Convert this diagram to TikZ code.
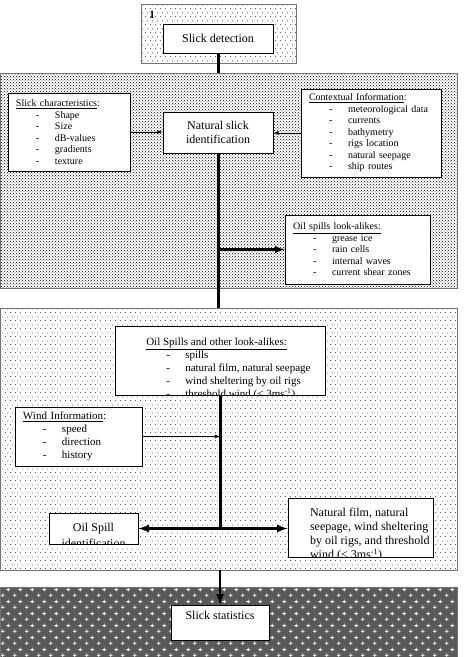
\documentclass[tikz,border=0pt]{standalone}
\usepackage{fontspec}
\setmainfont{Liberation Serif}
\usepackage{tikz}
\usetikzlibrary{arrows}
\usetikzlibrary{patterns}
\usetikzlibrary{positioning}

\newcommand{\boxfont}{\fontsize{12}{13.4}\selectfont}
\newcommand{\midfont}{\fontsize{11}{12.8}\selectfont}
\newcommand{\listfont}{\fontsize{10}{11.5}\selectfont}
\newcommand{\dashitem}[1]{\\\hspace*{20pt}\makebox[19pt][l]{-}#1}

\pgfdeclarepatternformonly{sparse dots}{\pgfpointorigin}{\pgfqpoint{5pt}{8pt}}{\pgfqpoint{5pt}{8pt}}{%
  \pgfpathrectangle{\pgfqpoint{0pt}{0pt}}{\pgfqpoint{1pt}{1pt}}
  \pgfpathrectangle{\pgfqpoint{2.5pt}{4pt}}{\pgfqpoint{1pt}{1pt}}
  \pgfusepath{fill}}
\pgfdeclarepatternformonly{white crosses}{\pgfpointorigin}{\pgfqpoint{12pt}{12pt}}{\pgfqpoint{12pt}{12pt}}{%
  \pgfsetlinewidth{0.9pt}
  \pgfpathmoveto{\pgfqpoint{1pt}{3pt}}\pgfpathlineto{\pgfqpoint{5pt}{3pt}}
  \pgfpathmoveto{\pgfqpoint{3pt}{1pt}}\pgfpathlineto{\pgfqpoint{3pt}{5pt}}
  \pgfpathmoveto{\pgfqpoint{7pt}{9pt}}\pgfpathlineto{\pgfqpoint{11pt}{9pt}}
  \pgfpathmoveto{\pgfqpoint{9pt}{7pt}}\pgfpathlineto{\pgfqpoint{9pt}{11pt}}
  \pgfusepath{stroke}}

\begin{document}
\begin{tikzpicture}[x=1pt,y=-1pt,
  panel/.style={draw=black!55,line width=0.6pt,inner sep=0pt},
  box/.style={draw,fill=white,line width=0.8pt,inner xsep=8pt,inner ysep=0pt},
  flow/.style={line width=3pt},
  feed/.style={-latex,line width=0.8pt}]
  \useasboundingbox (0,0) rectangle (474,657);

  %% panels
  \node (p1) [panel,pattern=sparse dots,pattern color=black!60,minimum width=155,minimum height=59] at (218.5,33.5) {};
  \node (p2) [panel,pattern=crosshatch dots,pattern color=black,minimum width=457,minimum height=215] at (229,180.5) {};
  \node (p3) [panel,pattern=sparse dots,pattern color=black!65,minimum width=457,minimum height=262] at (229,439) {};
  \node (p4) [panel,preaction={fill=black!65},pattern=white crosses,pattern color=white,minimum width=457,minimum height=76] at (229,625) {};

  %% step 1
  \node (num) [font=\bfseries\fontsize{11}{13}\selectfont] at (152,15) {1};
  \node (detect) [box,font=\boxfont,minimum width=110,minimum height=29] at (218,38.5) {Slick detection};

  %% step 2
  \node (natural) [box,font=\boxfont,align=center,minimum width=110,minimum height=41] at (218,132.5) {Natural slick\\identification};
  \node (charac) [box,font=\listfont,align=left,text width=106,minimum height=78] at (69,132)
    {\underline{Slick characteristics}:\dashitem{Shape}\dashitem{Size}\dashitem{dB-values}\dashitem{gradients}\dashitem{texture}};
  \node (context) [box,font=\listfont,align=left,text width=124,minimum height=88] at (371,133)
    {\underline{Contextual Information}:\dashitem{meteorological data}\dashitem{currents}\dashitem{bathymetry}\dashitem{rigs location}\dashitem{natural seepage}\dashitem{ship routes}};
  \node (lookalike) [box,font=\listfont,align=left,text width=129,minimum height=69] at (357.5,249.5)
    {\underline{Oil spills look-alikes:}\dashitem{grease ice}\dashitem{rain cells}\dashitem{internal waves}\dashitem{current shear zones}};

  %% step 3
  \node (spills) [box,minimum width=210,minimum height=69,path picture={
    \node [anchor=north west,align=left,inner sep=0pt,font=\midfont] at ([xshift=8pt,yshift=-8pt]path picture bounding box.north west)
      {\underline{Oil Spills and other look-alikes:}\dashitem{spills}\dashitem{natural film, natural seepage}\dashitem{wind sheltering by oil rigs}\dashitem{threshold wind (< 3ms\textsuperscript{-1})}};
    }] at (220,360.5) {};
  \node (wind) [box,font=\midfont,align=left,text width=111,minimum height=59] at (78.5,436.5)
    {\underline{Wind Information}:\dashitem{speed}\dashitem{direction}\dashitem{history}};
  \node (oilspill) [box,minimum width=89,minimum height=31,path picture={
    \node [anchor=north,align=center,inner sep=0pt,font=\fontsize{12}{16}\selectfont] at ([yshift=-6pt]path picture bounding box.north)
      {Oil Spill\\identification};
    }] at (93.5,528.5) {};
  \node (film) [box,minimum width=145,minimum height=59,path picture={
    \node [anchor=north west,align=left,inner sep=0pt,font=\fontsize{12}{14}\selectfont] at ([xshift=9pt,yshift=-7pt]path picture bounding box.north west)
      {Natural film, natural\\seepage, wind sheltering\\by oil rigs, and threshold\\wind (< 3ms\textsuperscript{-1})};
    }] at (360.5,527.5) {};
  \coordinate (split) at (spills |- oilspill);

  %% step 4
  \node (stats) [box,font=\boxfont,align=center,minimum width=98,minimum height=35,text height=9pt,text depth=15pt] at (220,622.5) {Slick statistics};

  %% connectors
  \draw[flow] (detect.south) -- (detect |- p2.north);
  \draw[flow] (natural.south) -- (natural |- p3.north);
  \draw[feed] (charac.east) -- (charac.east -| natural.west);
  \draw[feed] (context.west) -- (context.west -| natural.east);
  \draw[-latex,line width=2.2pt] (natural |- lookalike.west) -- (lookalike.west);
  \draw[flow] (spills.south) -- (split);
  \draw[feed] (wind.east) -- (wind.east -| spills);
  \draw[-latex,line width=2.6pt] (split) -- (oilspill.east);
  \draw[-latex,line width=2.6pt] (split) -- (split -| film.west);
  \draw[-latex,line width=2.6pt] (p3.south -| stats) -- (stats.north);
\end{tikzpicture}
\end{document}
